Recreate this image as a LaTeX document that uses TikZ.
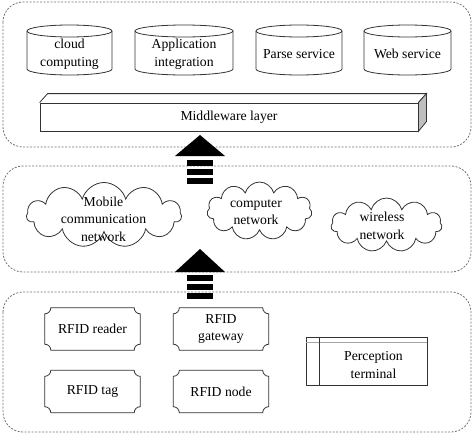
\documentclass[tikz,border=0pt]{standalone}
\usepackage{fontspec}
\setmainfont{Liberation Serif}
\usetikzlibrary{shapes.symbols}
\newcommand\cylshape[6]{%
  \pgfmathsetmacro\cylrx{(#3-#2)/2}%
  \draw[ln] ({#2},{#4+6}) -- ({#2},{#5-6}) arc[start angle=180,end angle=360,x radius=\cylrx pt,y radius=6pt] -- ({#3},{#4+6});
  \draw[ln] ({(#2+#3)/2},{#4+6}) ellipse[x radius=\cylrx pt,y radius=6pt];
  \node[txt] (#1) at ({(#2+#3)/2},{(#4+#5)/2+4}) {#6};}
\newcommand\plaqueshape[1]{%
  \draw[ln] ([xshift=6pt]#1.north west) -- ([xshift=-6pt]#1.north east)
    arc[start angle=180,end angle=270,radius=6pt] -- ([yshift=6pt]#1.south east)
    arc[start angle=90,end angle=180,radius=6pt] -- ([xshift=6pt]#1.south west)
    arc[start angle=0,end angle=90,radius=6pt] -- ([yshift=-6pt]#1.north west)
    arc[start angle=270,end angle=360,radius=6pt] -- cycle;}
\begin{document}
\begin{tikzpicture}[x=1pt,y=-1pt,
  ln/.style={draw=black!80, line width=0.8pt},
  layer/.style={draw=black!55, line width=0.8pt, dash pattern=on 2pt off 1.5pt, rounded corners=20pt},
  txt/.style={font=\fontsize{13.7}{17.5}\selectfont, align=center, inner sep=0pt},
  cloudn/.style={cloud, cloud puffs=11, cloud ignores aspect, draw=black!80, line width=0.8pt, inner sep=0pt},
  plq/.style={txt, minimum width=95pt, minimum height=42pt}]
\useasboundingbox (0,0) rectangle (474,434);
% layers
\draw[layer] (3,2) rectangle (471,147);
\draw[layer] (3,166) rectangle (471,272);
\draw[layer] (3,292) rectangle (471,432);
% cylinders
\cylshape{cc}{27}{112}{25}{75}{cloud\\computing}
\cylshape{ai}{135}{233}{25}{75}{Application\\integration}
\cylshape{ps}{256}{342}{25}{75}{Parse service}
\cylshape{ws}{364}{451}{25}{75}{Web service}
% middleware
\node[ln, txt, draw, minimum width=378pt, minimum height=28pt] (mw) at (229,117) {Middleware layer};
\draw[ln] (mw.north west) -- ++(8,-9) -- ([shift={(8pt,9pt)}]mw.north east) -- (mw.north east);
\draw[ln, fill=black!25] (mw.north east) -- ++(8,-9) -- ++(0,28) -- (mw.south east) -- cycle;
% arrows
\fill (175,156) -- (200,135) -- (225,156) -- cycle;
\foreach \y in {160,169,178} \fill (187,\y) rectangle (213,\y+6);
\fill (175,272) -- (200,249) -- (225,272) -- cycle;
\foreach \y in {275,284,293} \fill (187,\y) rectangle (213,\y+6);
% clouds
\node[cloudn, minimum width=155pt, minimum height=65pt] (mobc) at (104,215) {};
\node[txt] (mob) at (103.5,219) {Mobile\\communication\\network};
\node[cloudn, minimum width=105pt, minimum height=58pt] (compc) at (259.5,211) {};
\node[txt] (comp) at (256,212) {computer\\network};
\node[cloudn, minimum width=111pt, minimum height=54pt] (wlc) at (386.5,225) {};
\node[txt] (wl) at (382,226) {wireless\\network};
% RFID plaques
\node[plq] (rr) at (92.5,329) {RFID reader};
\node[plq] (rg) at (221,329) {RFID\\gateway};
\node[plq] (rt) at (92.5,391.5) {RFID tag};
\node[plq] (rn) at (221,391.5) {RFID node};
\plaqueshape{rr}
\plaqueshape{rg}
\plaqueshape{rt}
\plaqueshape{rn}
% perception terminal
\node[ln, draw, minimum width=121pt, minimum height=48pt, inner sep=0pt] (pt) at (366.5,361) {};
\draw[draw=black!35, line width=1.2pt] ([yshift=-6pt]pt.north west) -- ([yshift=-6pt]pt.north east);
\draw[ln] ([xshift=14pt]pt.north west) -- ([xshift=14pt]pt.south west);
\node[txt] (ptt) at (373.5,365) {Perception\\terminal};
\end{tikzpicture}
\end{document}
